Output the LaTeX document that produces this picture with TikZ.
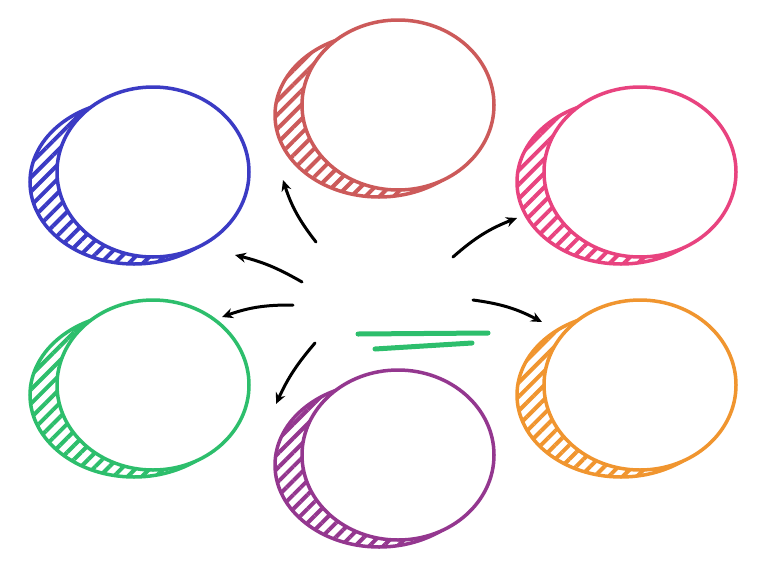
\documentclass[tikz,border=0pt]{standalone}
\usetikzlibrary{patterns.meta,arrows.meta}
\definecolor{cblue}{HTML}{3B3BC4}
\definecolor{cred}{HTML}{CC5A5A}
\definecolor{cpink}{HTML}{E8437F}
\definecolor{cgreen}{HTML}{2DBE6C}
\definecolor{cpurple}{HTML}{94378F}
\definecolor{corange}{HTML}{F0952F}
\tikzset{
  shadowblob/.style={draw=#1,line width=3.5pt,pattern={Lines[angle=45,distance=10pt,line width=4pt]},pattern color=#1},
  mainblob/.style={draw=#1,line width=3.5pt,fill=white},
  arr/.style={-{Stealth[length=11pt,width=10pt]},line width=3pt,line cap=round}
}
\newcommand{\blob}[3]{%
  \fill[white] (#1-16,#2+10) ellipse [x radius=104,y radius=82];
  \draw[shadowblob=#3] (#1-16,#2+10) ellipse [x radius=104,y radius=82];
  \draw[mainblob=#3] (#1+3,#2) ellipse [x radius=96,y radius=85];}
\begin{document}
\begin{tikzpicture}[x=1pt,y=-1pt]
\useasboundingbox (0,0) rectangle (768,576);
\blob{150}{172}{cblue}
\blob{395}{105}{cred}
\blob{637}{172}{cpink}
\blob{150}{385}{cgreen}
\blob{395}{455}{cpurple}
\blob{637}{385}{corange}
\coordinate (s1) at (316,242); \coordinate (e1) at (283,180);
\coordinate (s2) at (302,282); \coordinate (e2) at (235,255);
\coordinate (s3) at (293,305); \coordinate (e3) at (222,317);
\coordinate (s4) at (315,343); \coordinate (e4) at (276,404);
\coordinate (s5) at (453,257); \coordinate (e5) at (517,218);
\coordinate (s6) at (473,300); \coordinate (e6) at (542,322);
\draw[arr] (s1) to[bend left=10] (e1);
\draw[arr] (s2) to[bend right=8] (e2);
\draw[arr] (s3) to[bend right=10] (e3);
\draw[arr] (s4) to[bend right=8] (e4);
\draw[arr] (s5) to[bend left=10] (e5);
\draw[arr] (s6) to[bend left=10] (e6);
\coordinate (g1) at (358,334); \coordinate (g2) at (488,333);
\coordinate (g3) at (375,349); \coordinate (g4) at (472,343);
\draw[cgreen,line width=5pt,line cap=round] (g1) -- (g2);
\draw[cgreen,line width=5pt,line cap=round] (g3) -- (g4);
\end{tikzpicture}
\end{document}
